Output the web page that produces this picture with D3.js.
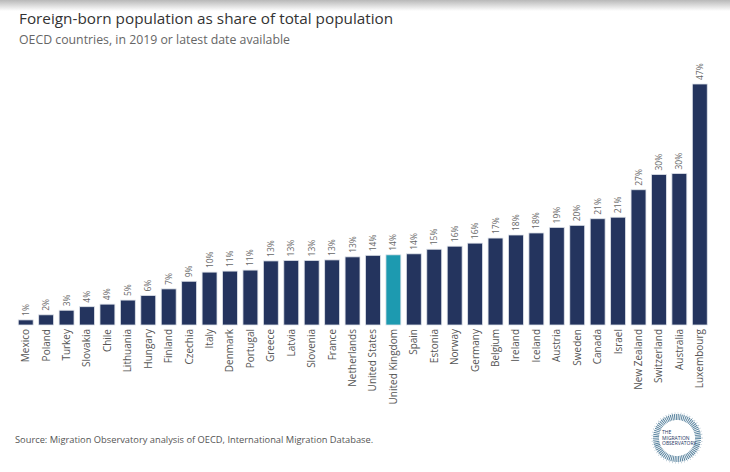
<!DOCTYPE html>
<html>
<head>
<meta charset="utf-8">
<script src="https://cdn.jsdelivr.net/npm/d3@7"></script>
<style>
  body { margin: 0; background: #fff; }
  text { font-family: "Open Sans", "Noto Sans", sans-serif; }
</style>
</head>
<body>
<div id="main"></div>
<script>
/* Size */
const width = 730, height = 472;

/* Data */
const countries = ["Mexico","Poland","Turkey","Slovakia","Chile","Lithuania","Hungary","Finland","Czechia","Italy",
  "Denmark","Portugal","Greece","Latvia","Slovenia","France","Netherlands","United States","United Kingdom","Spain",
  "Estonia","Norway","Germany","Belgium","Ireland","Iceland","Austria","Sweden","Canada","Israel",
  "New Zealand","Switzerland","Australia","Luxembourg"];
const shares = [1.0, 2.0, 2.9, 3.6, 4.1, 4.9, 5.8, 7.1, 8.6, 10.4,
  10.6, 10.8, 12.6, 12.7, 12.7, 12.8, 13.4, 13.7, 13.8, 14.0,
  14.9, 15.5, 16.1, 17.1, 17.7, 18.1, 19.2, 19.6, 20.9, 21.2,
  26.6, 29.6, 29.8, 47.4];
const highlight = "United Kingdom";

const svg = d3.select("#main").append("svg").attr("width", width).attr("height", height);

/* top shadow */
const grad = svg.append("defs").append("linearGradient")
  .attr("id", "shade").attr("x1", 0).attr("x2", 0).attr("y1", 0).attr("y2", 1);
grad.append("stop").attr("offset", 0).attr("stop-color", "#b8b8b8");
grad.append("stop").attr("offset", 1).attr("stop-color", "#ffffff");
svg.append("rect").attr("width", width).attr("height", 11).attr("fill", "url(#shade)");

/* titles */
svg.append("text").attr("x", 19).attr("y", 24)
  .text("Foreign-born population as share of total population")
  .style("font-size", "15.3px").style("fill", "#333");
svg.append("text").attr("x", 19).attr("y", 44)
  .text("OECD countries, in 2019 or latest date available")
  .style("font-size", "12.3px").style("fill", "#666");

/* scales */
const x = d3.scaleBand().domain(countries).range([15.5, 710]).paddingInner(0.27).paddingOuter(0.135);
const y = d3.scaleLinear().domain([0, 47.4]).range([325, 84]);

/* bars */
svg.selectAll("rect.bar")
  .data(countries)
  .enter().append("rect")
  .attr("class", "bar")
  .attr("x", d => x(d))
  .attr("width", x.bandwidth())
  .attr("y", (d, i) => y(shares[i]))
  .attr("height", (d, i) => y(0) - y(shares[i]))
  .attr("fill", d => d === highlight ? "#1d9ab0" : "#24345e")
  .attr("stroke", "#dfe3ea")
  .attr("stroke-width", 0.8);

/* value labels */
svg.selectAll("text.val")
  .data(countries)
  .enter().append("text")
  .attr("class", "val")
  .attr("transform", (d, i) => `translate(${x(d) + x.bandwidth() / 2 + 3},${y(shares[i]) - 4}) rotate(-90)`)
  .text((d, i) => Math.round(shares[i]) + "%")
  .style("font-size", "8.5px").style("fill", "#666");

/* x axis labels */
const xAxis = d3.axisBottom(x).tickSize(0).tickPadding(0);
const gx = svg.append("g").attr("transform", "translate(0,329)").call(xAxis);
gx.select(".domain").remove();
gx.selectAll("text")
  .attr("transform", "rotate(-90)")
  .attr("x", 0).attr("y", 0).attr("dy", "0.35em")
  .style("text-anchor", "end")
  .style("font-family", "'Open Sans', 'Noto Sans', sans-serif")
  .style("font-size", "10px").style("fill", "#555");

/* source */
svg.append("text").attr("x", 15).attr("y", 443)
  .text("Source: Migration Observatory analysis of OECD, International Migration Database.")
  .style("font-size", "9.3px").style("fill", "#555");

/* logo */
const logo = svg.append("g").attr("transform", "translate(677,438)");
logo.append("circle").attr("r", 21).attr("fill", "none")
  .attr("stroke", "#3d6f8e").attr("stroke-width", 6).attr("stroke-dasharray", "1 0.8").style("opacity", 0.85);
logo.append("circle").attr("r", 25).attr("fill", "none")
  .attr("stroke", "#6f93ab").attr("stroke-width", 1.2).attr("stroke-dasharray", "0.6 2.5").style("opacity", 0.7);
["THE", "MIGRATION", "OBSERVATORY"].forEach((t, i) => {
  logo.append("text").attr("x", -15).attr("y", -4 + i * 5.5).text(t)
    .style("font-size", "5px").style("fill", "#24345e");
});
</script>
</body>
</html>
